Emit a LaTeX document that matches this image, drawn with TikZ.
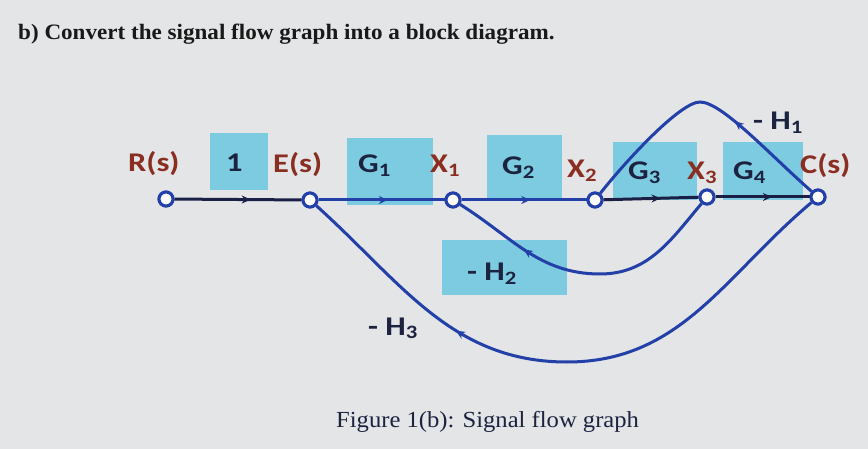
\documentclass[tikz,border=0pt]{standalone}
\usepackage{graphicx}
\usepackage{fontspec}
\setmainfont{Liberation Serif}
\newfontfamily\lblfont{Carlito}
\usetikzlibrary{decorations.markings,arrows.meta}
\definecolor{bgc}{HTML}{E3E5E7}
\definecolor{boxc}{HTML}{7CCBE0}
\definecolor{linkblue}{HTML}{2340A8}
\definecolor{linkdark}{HTML}{1A1F45}
\definecolor{lblred}{HTML}{8A2E22}
\definecolor{lblnavy}{HTML}{1C2340}
\newcommand{\wlab}[1]{\scalebox{1.2}[1]{#1}}
\tikzset{
  sfgnode/.style={circle, draw=linkblue, line width=3pt, fill=white!85!bgc, minimum size=14pt, inner sep=0pt},
  gainbox/.style={fill=boxc, inner sep=0pt, anchor=north west},
  sig/.style={font=\lblfont\bfseries\fontsize{27}{30}\selectfont, text=lblred, inner sep=0pt, anchor=base west},
  gain/.style={font=\lblfont\bfseries\fontsize{27}{30}\selectfont, text=lblnavy, inner sep=0pt, anchor=base west},
  branch/.style={line width=3pt, postaction={decorate},
    decoration={markings, mark=at position #1 with {\arrow{Stealth[length=9pt,width=8pt]}}}},
}
\begin{document}
\begin{tikzpicture}[x=1pt,y=-1pt]
\fill[bgc] (0,0) rectangle (868,449);
\useasboundingbox (0,0) rectangle (868,449);
% title and caption
\node[anchor=base west, inner sep=0pt, font=\bfseries\fontsize{22}{25}\selectfont, text=black!90] (title) at (18,40) {\scalebox{1.05}[1]{b) Convert the signal flow graph into a block diagram.}};
\node[anchor=base west, inner sep=0pt, font=\fontsize{23}{27}\selectfont, text=lblnavy] (caption) at (336,427) {\scalebox{1.07}[1]{Figure 1(b): Signal flow graph}};
% shaded gain boxes
\node[gainbox, minimum width=58pt, minimum height=57pt] (b1) at (210,133) {};
\node[gainbox, minimum width=86pt, minimum height=67pt] (bG1) at (347,138) {};
\node[gainbox, minimum width=75pt, minimum height=65pt] (bG2) at (487,135) {};
\node[gainbox, minimum width=84pt, minimum height=58pt] (bG3) at (613,142) {};
\node[gainbox, minimum width=80pt, minimum height=58pt] (bG4) at (723,142) {};
\node[gainbox, minimum width=125pt, minimum height=55pt] (bH2) at (442,240) {};
% nodes
\node[sfgnode] (R) at (166,199) {};
\node[sfgnode] (E) at (310,200) {};
\node[sfgnode] (X1) at (453,200) {};
\node[sfgnode] (X2) at (595,200) {};
\node[sfgnode] (X3) at (707,197) {};
\node[sfgnode] (C) at (818,197) {};
\coordinate (tH1) at (700,102);
\coordinate (tH2) at (600,274);
\coordinate (tH3) at (567,362);
% forward branches
\draw[branch=0.6, draw=linkdark] (R) -- (E);
\draw[branch=0.55, draw=linkblue] (E) -- (X1);
\draw[branch=0.55, draw=linkblue] (X1) -- (X2);
\draw[branch=0.6, draw=linkdark] (X2) -- (X3);
\draw[branch=0.6, draw=linkdark] (X3) -- (C);
% feedback branches
\draw[branch=0.37, draw=linkblue] (C) .. controls (770,155) and (722,102) .. (tH1) .. controls (680,102) and (625,162) .. (X2);
\draw[branch=0.73, draw=linkblue] (X3) to[out=-130, in=0] (tH2) to[out=180, in=-32] (X1);
\draw[branch=0.69, draw=linkblue] (C) to[out=-140, in=0] (tH3) to[out=180, in=-42] (E);
% redraw nodes on top
\node[sfgnode] at (R) {};
\node[sfgnode] at (E) {};
\node[sfgnode] at (X1) {};
\node[sfgnode] at (X2) {};
\node[sfgnode] at (X3) {};
\node[sfgnode] at (C) {};
% labels
\node[sig] (lR) at (128,172) {\wlab{R(s)}};
\node[gain] (l1) at (226,172) {\wlab{1}};
\node[sig] (lE) at (273,173) {\wlab{E(s)}};
\node[gain] (lG1) at (358,173) {\wlab{G\textsubscript{1}}};
\node[sig] (lX1) at (430,173) {\wlab{X\textsubscript{1}}};
\node[gain] (lG2) at (502,175) {\wlab{G\textsubscript{2}}};
\node[sig] (lX2) at (567,178) {\wlab{X\textsubscript{2}}};
\node[gain] (lG3) at (628,180) {\wlab{G\textsubscript{3}}};
\node[sig] (lX3) at (687,180) {\wlab{X\textsubscript{3}}};
\node[gain] (lG4) at (733,180) {\wlab{G\textsubscript{4}}};
\node[sig] (lC) at (800,174) {\wlab{C(s)}};
\node[gain] (lH1) at (753,130) {\wlab{- H\textsubscript{1}}};
\node[gain] (lH2) at (467,281) {\wlab{- H\textsubscript{2}}};
\node[gain] (lH3) at (368,335) {\wlab{- H\textsubscript{3}}};
\end{tikzpicture}
\end{document}
